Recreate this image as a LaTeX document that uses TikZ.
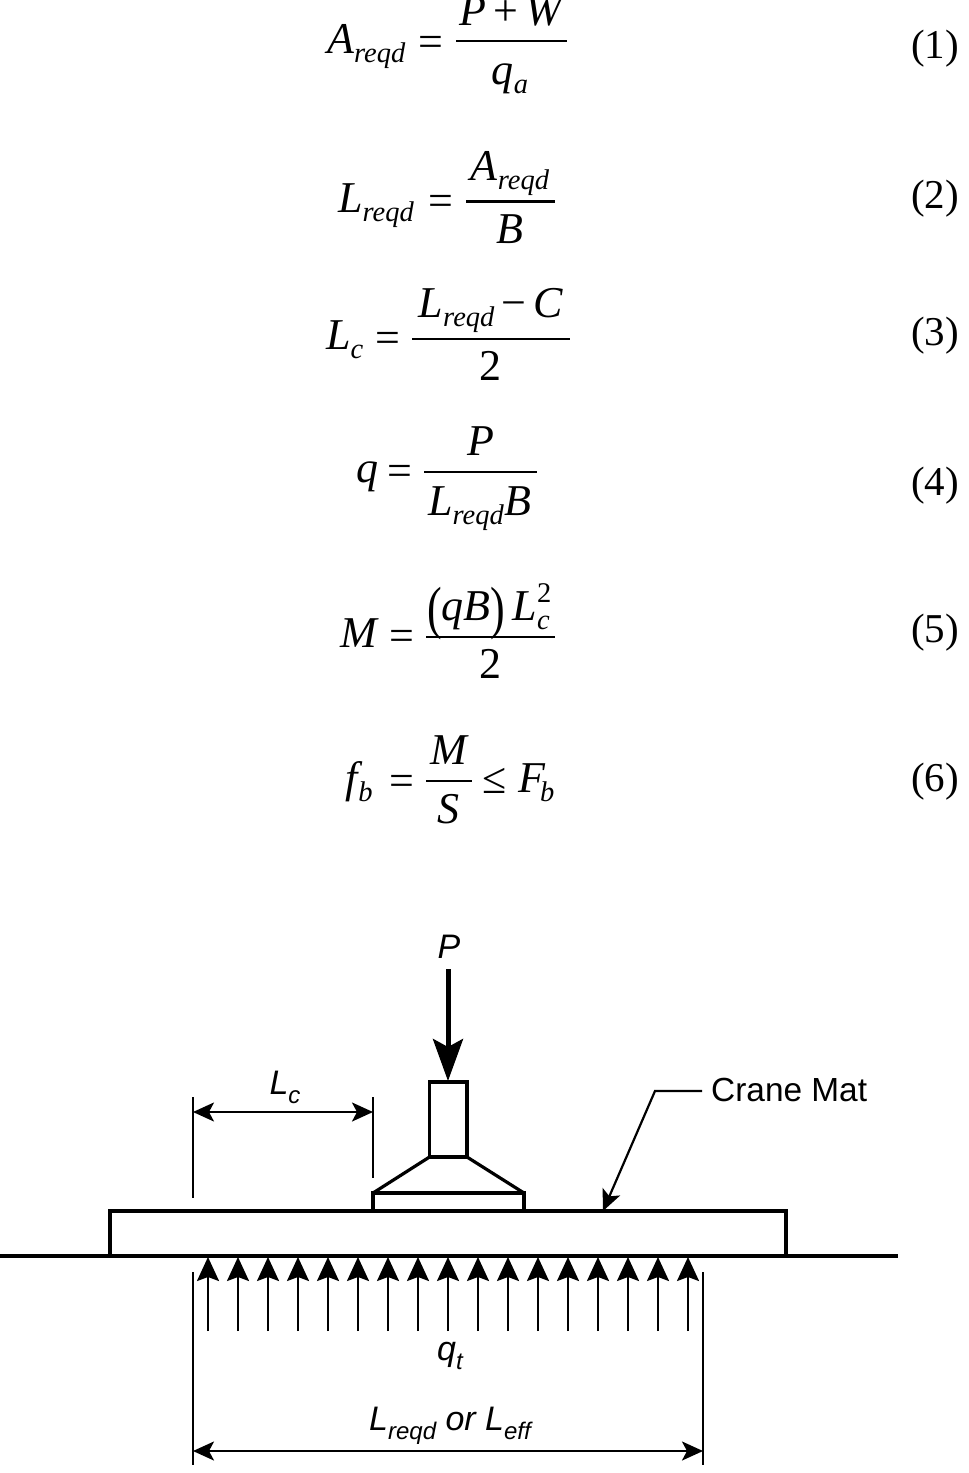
\documentclass[tikz,border=0pt]{standalone}
\usepackage{fontspec}
\usepackage{graphicx}
\setmainfont{Liberation Serif}
\newfontfamily\hvfont{Liberation Sans}
\usetikzlibrary{arrows.meta}
\newcommand\Sb[1]{\raisebox{-9pt}{\fontsize{28.5}{28.5}\selectfont\itshape #1}}
\newcommand\Hb[1]{\raisebox{-9pt}{\fontsize{24}{24}\selectfont\itshape #1}}
\newcommand\Pn[1]{\raisebox{-7pt}{\scalebox{1}[1.32]{\upshape #1}}}
\tikzset{
  eq/.style={inner sep=0pt,font=\fontsize{44}{44}\selectfont\itshape},
  up/.style={inner sep=0pt,font=\fontsize{44}{44}\selectfont},
  eqno/.style={inner sep=0pt,anchor=base east,font=\fontsize{41}{41}\selectfont},
  lab/.style={inner sep=0pt,font=\fontsize{34}{34}\selectfont\hvfont\itshape},
  plain/.style={inner sep=0pt,font=\fontsize{33.4}{33.4}\selectfont\hvfont},
  frac/.style={line width=2.4pt},
  heavy/.style={line width=3.2pt,line join=miter},
  dim/.style={line width=2.2pt},
  dimarrow/.style={line width=2.2pt,{Stealth[length=21pt,width=19pt,inset=5pt]}-{Stealth[length=21pt,width=19pt,inset=5pt]}},
  uparrow/.style={line width=2.2pt,-{Stealth[length=24pt,width=22pt,inset=4pt]}},
  leader/.style={line width=2.2pt,-{Stealth[length=21pt,width=19pt,inset=5pt]}},
  loadarrow/.style={line width=5pt,-{Stealth[length=42pt,width=30pt,inset=8pt]}}
}
\begin{document}
\begin{tikzpicture}[x=1pt,y=-1pt]
\useasboundingbox (0,0) rectangle (969,1473);
\clip (0,0) rectangle (969,1473);
% Eq 1
\node[eq,anchor=base west] (a1) at (327,53) {A\Sb{reqd}};
\node[up,anchor=base] (e1) at (431,56) {=};
\draw[frac] (456,41) -- (567,41);
\node[eq,anchor=base] (n1) at (511,25) {P\,{\upshape +}\,W};
\node[eq,anchor=base] (d1) at (510,84) {q\Sb{a}};
\node[eqno] (no1) at (959,58) {(1)};
% Eq 2
\node[eq,anchor=base west] (a2) at (338,212) {L\Sb{reqd}};
\node[up,anchor=base] (e2) at (441,215) {=};
\draw[frac] (466,201.5) -- (555,201.5);
\node[eq,anchor=base] (n2) at (510,180) {A\Sb{reqd}};
\node[eq,anchor=base] (d2) at (510,243) {B};
\node[eqno] (no2) at (959,208) {(2)};
% Eq 3
\node[eq,anchor=base west] (a3) at (326,349) {L\Sb{c}};
\node[up,anchor=base] (e3) at (388,352) {=};
\draw[frac] (412,339) -- (570,339);
\node[eq,anchor=base] (n3) at (491,317) {L\Sb{reqd}\,{\upshape −}\,C};
\node[up,anchor=base] (d3) at (490,380) {2};
\node[eqno] (no3) at (959,345) {(3)};
% Eq 4
\node[eq,anchor=base] (a4) at (367,482) {q};
\node[up,anchor=base] (e4) at (400,485) {=};
\draw[frac] (424,472) -- (537,472);
\node[eq,anchor=base] (n4) at (481,455) {P};
\node[eq,anchor=base west] (d4) at (428,515) {L\Sb{reqd}\kern1pt B};
\node[eqno] (no4) at (959,495) {(4)};
% Eq 5
\node[eq,anchor=base west] (a5) at (340,647) {M};
\node[up,anchor=base] (e5) at (402,650) {=};
\draw[frac] (426,637) -- (555,637);
\node[eq,anchor=base west] (n5) at (427,620) {\Pn{(}qB\Pn{)}\,L\rlap{\raisebox{18pt}{\fontsize{28.5}{28.5}\selectfont\upshape 2}}\Sb{c}};
\node[up,anchor=base] (d5) at (490,678) {2};
\node[eqno] (no5) at (959,642) {(5)};
% Eq 6
\node[eq,anchor=base west] (a6) at (345,792) {f\kern1pt\Sb{b}};
\node[up,anchor=base] (e6) at (402,795) {=};
\draw[frac] (426,781) -- (472,781);
\node[eq,anchor=base] (n6) at (449,764) {M};
\node[eq,anchor=base] (d6) at (448,823) {S};
\node[up,anchor=base] (le6) at (495,793) {≤};
\node[eq,anchor=base west] (f6) at (518,792) {F\kern-5pt\Sb{b}};
\node[eqno] (no6) at (959,791) {(6)};
% Structure
\draw[heavy] (429.5,1157) rectangle (467,1082);
\draw[heavy] (429.5,1157) -- (373,1193);
\draw[heavy] (467,1157) -- (524,1193);
\draw[heavy] (373,1211) -- (373,1193) -- (524,1193) -- (524,1211);
\draw[heavy] (110,1256) -- (110,1211) -- (786,1211) -- (786,1256);
\draw[heavy] (0,1256) -- (898,1256);
% Load P
\node[lab,anchor=base] (p) at (449,958) {P};
\coordinate (ptop) at (448,969);
\coordinate (ptip) at (448,1081);
\draw[loadarrow] (ptop) -- (ptip);
% Lc dim
\coordinate (c1a) at (193,1097);
\coordinate (c1b) at (193,1198);
\coordinate (c2a) at (373,1097);
\coordinate (c2b) at (373,1178);
\coordinate (c1m) at (193,1112);
\coordinate (c2m) at (373,1112);
\draw[dim] (c1a) -- (c1b);
\draw[dim] (c2a) -- (c2b);
\draw[dimarrow] (c1m) -- (c2m);
\node[lab,anchor=base] (lc) at (285,1094) {L\Hb{c}};
% Crane Mat
\node[plain,anchor=base west] (cm) at (711,1101) {Crane Mat};
\coordinate (l1) at (702,1091);
\coordinate (l2) at (655,1091);
\coordinate (l3) at (603,1211);
\draw[leader] (l1) -- (l2) -- (l3);
% Pressure
\foreach \i in {0,...,16}{
  \coordinate (ub\i) at ({208+30*\i},1331);
  \coordinate (ut\i) at ({208+30*\i},1257);
  \draw[uparrow] (ub\i) -- (ut\i);
}
\node[lab,anchor=base] (qt) at (450,1360) {q\Hb{t}};
% L dim
\coordinate (d1a) at (193,1272);
\coordinate (d1b) at (193,1465);
\coordinate (d2a) at (703,1272);
\coordinate (d2b) at (703,1465);
\coordinate (d1m) at (193,1451);
\coordinate (d2m) at (703,1451);
\draw[dim] (d1a) -- (d1b);
\draw[dim] (d2a) -- (d2b);
\draw[dimarrow] (d1m) -- (d2m);
\node[lab,anchor=base] (lr) at (450,1430) {L\Hb{reqd} or L\Hb{eff}};
\end{tikzpicture}
\end{document}
